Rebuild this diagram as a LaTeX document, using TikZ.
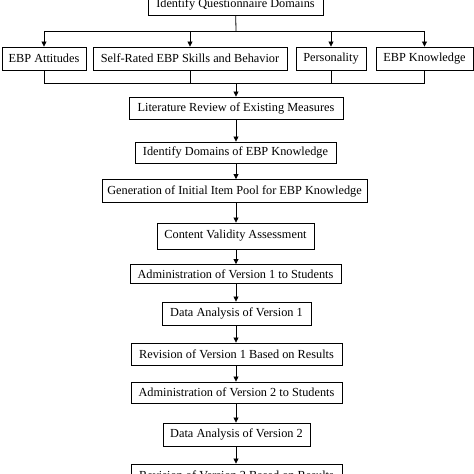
\documentclass[tikz,border=0pt]{standalone}
\usepackage{fontspec}
\setmainfont{Liberation Serif}
\usetikzlibrary{arrows.meta}
\tikzset{
  stepbox/.style={draw, line width=0.9pt, inner sep=0pt, font=\fontsize{12.3}{14}\selectfont},
  flow/.style={line width=0.8pt, -{Triangle[length=5pt,width=5pt]}},
  link/.style={line width=0.8pt}
}
\begin{document}
\begin{tikzpicture}[x=1pt, y=-1pt]
            \useasboundingbox (0,0) rectangle (474,474);
            % domains
            \node[stepbox, minimum width=175pt, minimum height=23pt] (dom) at (235.5,4) {Identify Questionnaire Domains};
            \node[stepbox, minimum width=84pt, minimum height=23pt] (att) at (44,58.5) {EBP Attitudes};
            \node[stepbox, minimum width=194pt, minimum height=23pt] (skill) at (190,58.5) {Self-Rated EBP Skills and Behavior};
            \node[stepbox, minimum width=70pt, minimum height=23pt] (pers) at (331,58.5) {Personality};
            \node[stepbox, minimum width=97pt, minimum height=23pt] (know) at (424.5,58.5) {EBP Knowledge};
            % main column
            \node[stepbox, minimum width=214pt, minimum height=22pt] (lit) at (236,108) {Literature Review of Existing Measures};
            \node[stepbox, minimum width=201pt, minimum height=21pt] (ident) at (235.5,152.5) {Identify Domains of EBP Knowledge};
            \node[stepbox, minimum width=265pt, minimum height=23pt] (gen) at (234.5,191) {Generation of Initial Item Pool for EBP Knowledge};
            \node[stepbox, minimum width=157pt, minimum height=26pt] (cont) at (235.5,236) {Content Validity Assessment};
            \node[stepbox, minimum width=211pt, minimum height=19pt] (adm1) at (235.5,274) {Administration of Version 1 to Students};
            \node[stepbox, minimum width=149pt, minimum height=23pt] (ana1) at (236.5,313.5) {Data Analysis of Version 1};
            \node[stepbox, minimum width=211pt, minimum height=22pt] (rev1) at (236.5,354) {Revision of Version 1 Based on Results};
            \node[stepbox, minimum width=211pt, minimum height=21pt] (adm2) at (236.5,392.5) {Administration of Version 2 to Students};
            \node[stepbox, minimum width=147pt, minimum height=23pt] (ana2) at (236.5,434.5) {Data Analysis of Version 2};
            \node[stepbox, minimum width=211pt, minimum height=23pt] (rev2) at (236.5,475.5) {Revision of Version 2 Based on Results};

            \coordinate (split) at (236,31);
            \coordinate (merge) at (236,83);

            \draw[link] (dom) -- (split);
            \draw[link] (split -| att) -- (split -| know);
            \draw[flow] (split -| att) -- (att);
            \draw[flow] (split -| skill) -- (skill);
            \draw[flow] (split -| pers) -- (pers);
            \draw[flow] (split -| know) -- (know);

            \draw[link] (att) -- (merge -| att) -- (merge -| know) -- (know);
            \draw[link] (skill) -- (merge -| skill);
            \draw[link] (pers) -- (merge -| pers);
            \draw[flow] (merge) -- (lit);

            \draw[flow] (lit.south -| merge) -- (ident.north -| merge);
            \draw[flow] (ident.south -| merge) -- (gen.north -| merge);
            \draw[flow] (gen.south -| merge) -- (cont.north -| merge);
            \draw[flow] (cont.south -| merge) -- (adm1.north -| merge);
            \draw[flow] (adm1.south -| merge) -- (ana1.north -| merge);
            \draw[flow] (ana1.south -| merge) -- (rev1.north -| merge);
            \draw[flow] (rev1.south -| merge) -- (adm2.north -| merge);
            \draw[flow] (adm2.south -| merge) -- (ana2.north -| merge);
            \draw[flow] (ana2.south -| merge) -- (rev2.north -| merge);
        \end{tikzpicture}
\end{document}
